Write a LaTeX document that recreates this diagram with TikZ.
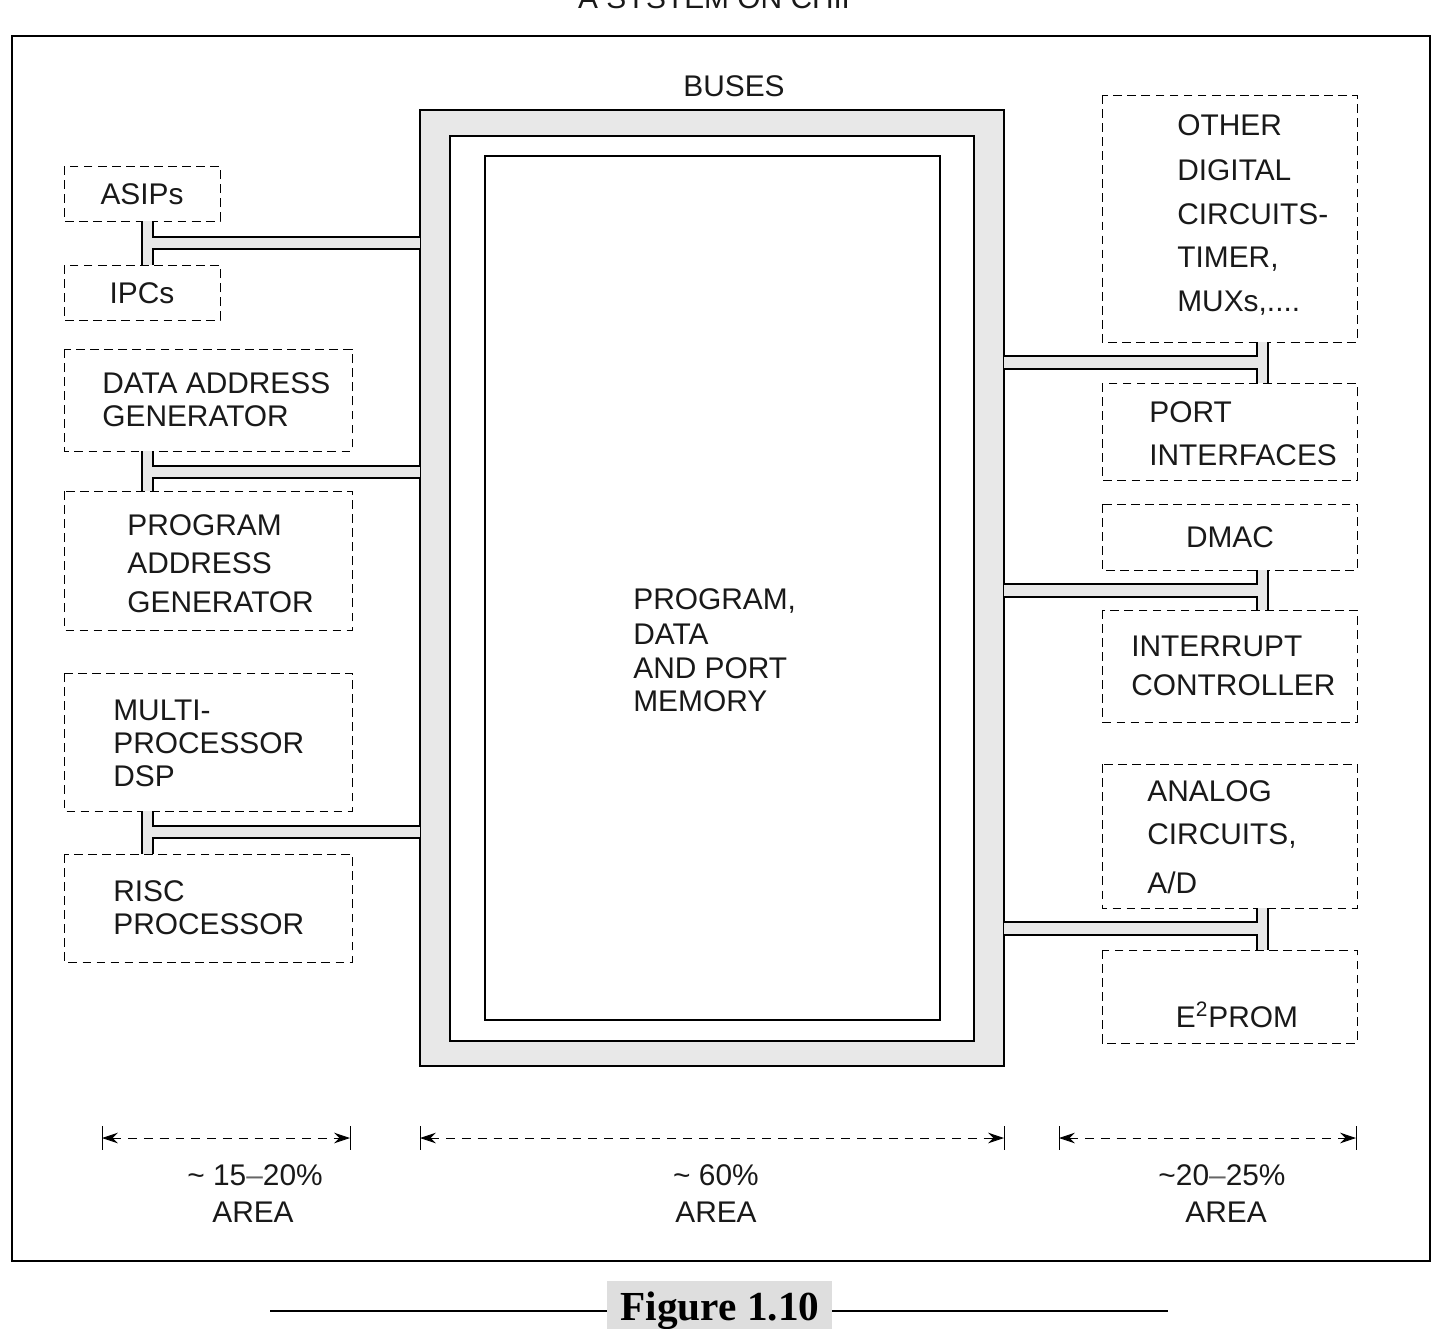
\documentclass[tikz,border=0pt]{standalone}
\usepackage{fontspec}
\setmainfont{Liberation Sans}
\newfontfamily\capfont{Liberation Serif}
\usetikzlibrary{arrows.meta}
\definecolor{busgray}{HTML}{E8E8E8}
\tikzset{
 dbox/.style={draw,dashed,dash pattern=on 5pt off 3pt,line width=0.5pt},
 txt/.style={font=\fontsize{17}{20}\selectfont,inner sep=0pt,text=black!90},
 busfill/.style={fill=busgray},
 busline/.style={line width=0.9pt},
 dim/.style={dashed,dash pattern=on 5pt off 4pt,line width=0.5pt,{Stealth[length=9pt,width=6pt]}-{Stealth[length=9pt,width=6pt]}},
}
\begin{document}
\begin{tikzpicture}[x=0.02cm,y=-0.02cm]
\useasboundingbox (0,0) rectangle (1441,1329);
\node[txt,anchor=base] (title) at (720,8) {A SYSTEM ON CHIP};
\draw[line width=1pt] (12,36) rectangle (1430,1261);
% buses block
\draw[busline,busfill] (420,110) rectangle (1004,1066);
\draw[busline,fill=white] (450,136) rectangle (974,1041);
\draw[busline] (485,156) rectangle (940,1020);
\node[txt] (buses) at (734,86) {BUSES};
\node[txt,anchor=west] (m1) at (633,601) {PROGRAM,};
\node[txt,anchor=west] (m2) at (633,634) {DATA};
\node[txt,anchor=west] (m3) at (633,668) {AND PORT};
\node[txt,anchor=west] (m4) at (633,701) {MEMORY};
% left boxes
\draw[dbox] (64,166) rectangle (220,221);
\draw[dbox] (64,265) rectangle (220,320);
\draw[dbox] (64,349) rectangle (352,451);
\draw[dbox] (64,491) rectangle (352,630);
\draw[dbox] (64,673) rectangle (352,811);
\draw[dbox] (64,854) rectangle (352,962);
\node[txt] (asip) at (142,194) {ASIPs};
\node[txt] (ipc) at (142,293) {IPCs};
\node[txt,anchor=west] (d1) at (102,383) {DATA ADDRESS};
\node[txt,anchor=west] (d2) at (102,416) {GENERATOR};
\node[txt,anchor=west] (p1) at (127,525) {PROGRAM};
\node[txt,anchor=west] (p2) at (127,563) {ADDRESS};
\node[txt,anchor=west] (p3) at (127,602) {GENERATOR};
\node[txt,anchor=west] (mu1) at (113,710) {MULTI-};
\node[txt,anchor=west] (mu2) at (113,743) {PROCESSOR};
\node[txt,anchor=west] (mu3) at (113,776) {DSP};
\node[txt,anchor=west] (r1) at (113,891) {RISC};
\node[txt,anchor=west] (r2) at (113,924) {PROCESSOR};
% right boxes
\draw[dbox] (1102,95) rectangle (1357,342);
\draw[dbox] (1102,383) rectangle (1357,480);
\draw[dbox] (1102,504) rectangle (1357,570);
\draw[dbox] (1102,610) rectangle (1357,722);
\draw[dbox] (1102,764) rectangle (1357,908);
\draw[dbox] (1102,950) rectangle (1357,1043);
\node[txt,anchor=west] (o1) at (1177,125) {OTHER};
\node[txt,anchor=west] (o2) at (1177,170) {DIGITAL};
\node[txt,anchor=west] (o3) at (1177,214) {CIRCUITS-};
\node[txt,anchor=west] (o4) at (1177,259) {TIMER,};
\node[txt,anchor=west] (o5) at (1177,303) {MUXs,....};
\node[txt,anchor=west] (pi1) at (1149,412) {PORT};
\node[txt,anchor=west] (pi2) at (1149,455) {INTERFACES};
\node[txt] (dmac) at (1230,537) {DMAC};
\node[txt,anchor=west] (i1) at (1131,646) {INTERRUPT};
\node[txt,anchor=west] (i2) at (1131,685) {CONTROLLER};
\node[txt,anchor=west] (a1) at (1147,791) {ANALOG};
\node[txt,anchor=west] (a2) at (1147,836) {CIRCUITS,};
\node[txt,anchor=west] (a3) at (1147,883) {A/D};
\node[txt] (e2) at (1237,1015) {E\textsuperscript{2}PROM};
% left bus connectors
\foreach \ya/\yb/\hy in {221/265/237, 451/491/466, 811/854/826}{
 \fill[busgray] (142,\ya) rectangle (153,\yb);
 \fill[busgray] (153,\hy) rectangle (420,\hy+12);
 \draw[busline] (142,\ya) -- (142,\yb);
 \draw[busline] (153,\ya) -- (153,\hy) -- (420,\hy);
 \draw[busline] (153,\yb) -- (153,\hy+12) -- (420,\hy+12);
}
% right bus connectors
\foreach \ya/\yb/\hy in {342/383/356, 570/610/584, 908/950/922}{
 \fill[busgray] (1257,\ya) rectangle (1268,\yb);
 \fill[busgray] (1004,\hy) rectangle (1257,\hy+13);
 \draw[busline] (1268,\ya) -- (1268,\yb);
 \draw[busline] (1257,\ya) -- (1257,\hy) -- (1004,\hy);
 \draw[busline] (1257,\yb) -- (1257,\hy+13) -- (1004,\hy+13);
}
% dimensions
\foreach \xa/\xb in {102/350, 420/1004, 1059/1356}{
 \draw[line width=0.5pt] (\xa,1126) -- (\xa,1150);
 \draw[line width=0.5pt] (\xb,1126) -- (\xb,1150);
 \draw[dim] (\xa,1138) -- (\xb,1138);
}
\node[txt] (l1) at (255,1175) {\textasciitilde{} 15\textcolor{black!60}{--}20\%};
\node[txt] (l2) at (253,1212) {AREA};
\node[txt] (c1) at (716,1175) {\textasciitilde{} 60\%};
\node[txt] (c2) at (716,1212) {AREA};
\node[txt] (r1l) at (1222,1175) {\textasciitilde{}20\textcolor{black!60}{--}25\%};
\node[txt] (r2l) at (1226,1212) {AREA};
% caption
\fill[black!13] (607,1281) rectangle (832,1340);
\node[font=\capfont\bfseries\fontsize{23.5}{26}\selectfont,inner sep=0pt] (fig) at (720,1311) {Figure 1.10};
\draw[line width=0.6pt] (270,1311) -- (607,1311);
\draw[line width=0.6pt] (832,1311) -- (1168,1311);
\end{tikzpicture}
\end{document}
